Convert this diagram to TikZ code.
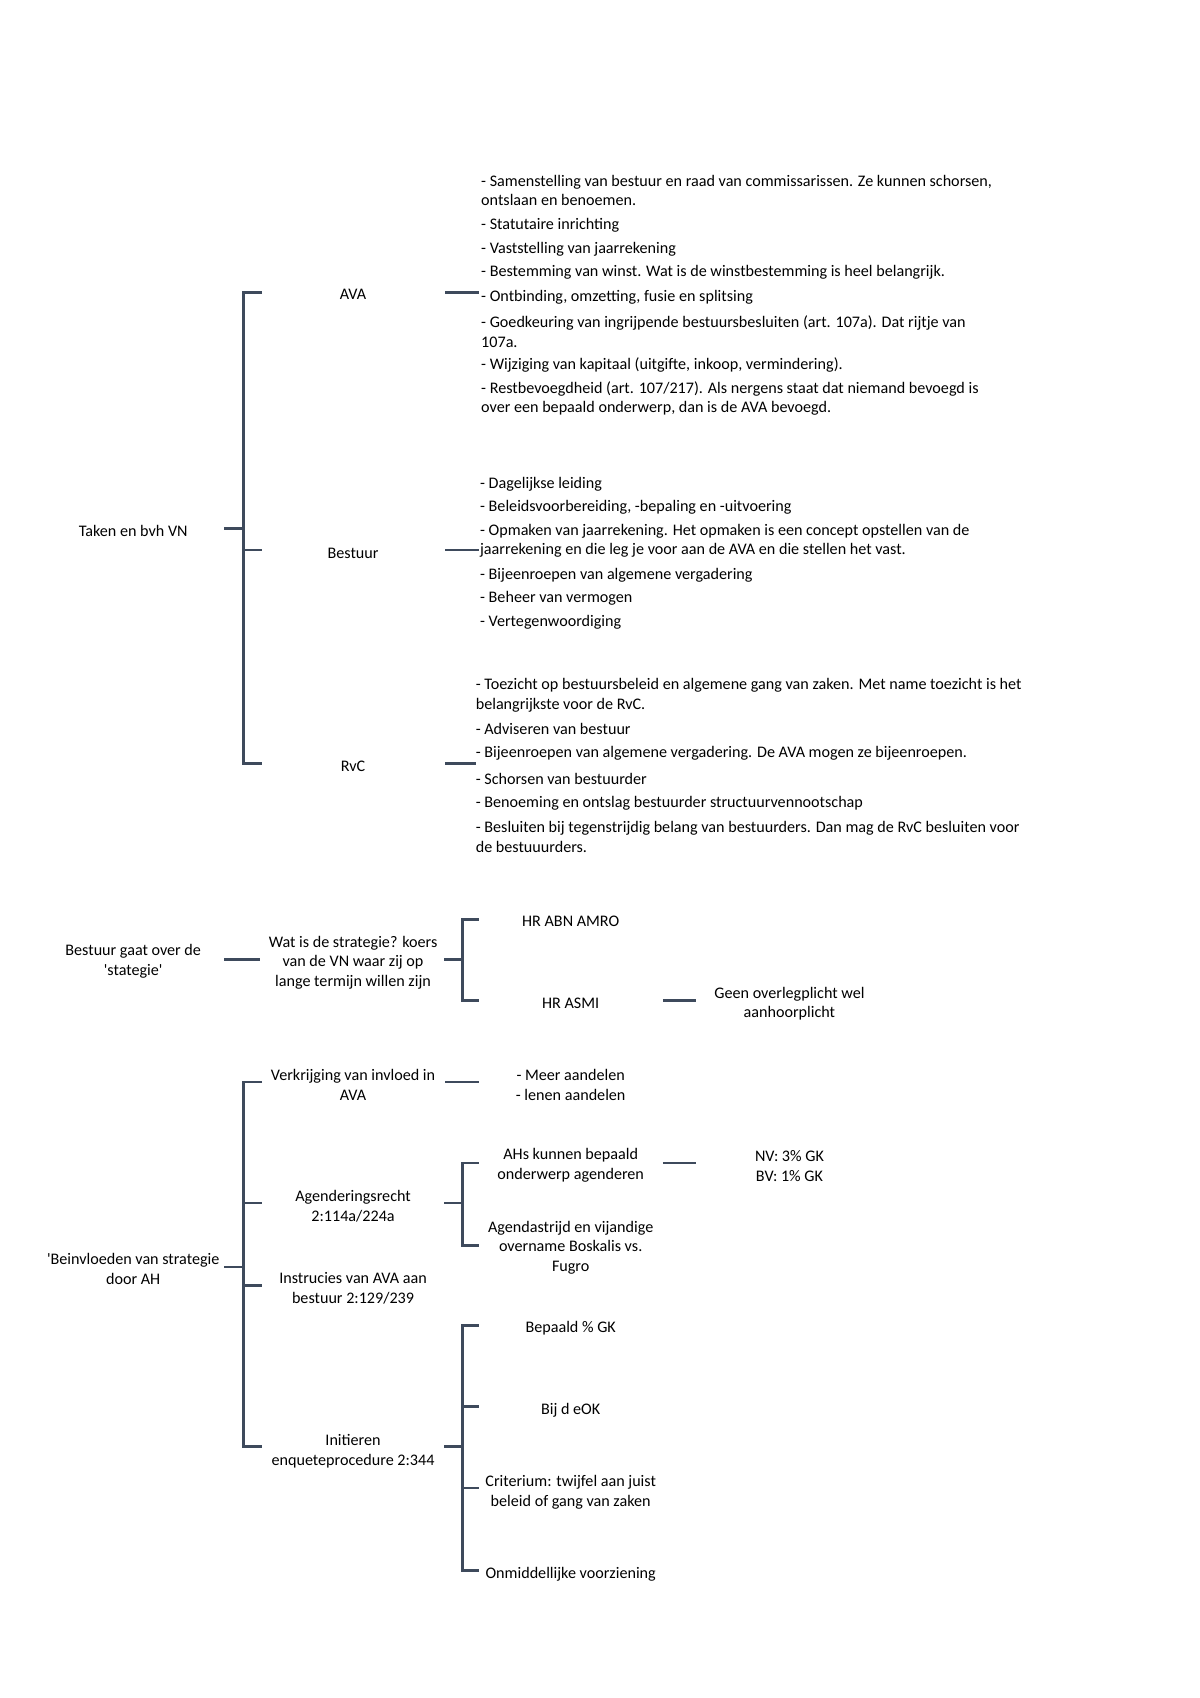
\documentclass[tikz,border=0pt]{standalone}
\usepackage{fontspec}
\setmainfont{Carlito}
\definecolor{linec}{HTML}{3E4A5C}
\begin{document}
\begin{tikzpicture}[x=0.537pt,y=-0.537pt,
  conn/.style={draw=linec,line width=1.3pt,line join=miter},
  lbl/.style={inner sep=0pt,align=center,yshift=-1pt,font=\fontsize{8}{9.7}\selectfont},
  item/.style={inner sep=0pt,anchor=west,align=left,yshift=-1pt,font=\fontsize{8}{9.7}\selectfont}]
\useasboundingbox (0,0) rectangle (1108,1568);

% ---------- top section ----------
\node[lbl] (taken) at (123,488) {Taken en bvh VN};
\node[lbl] (ava) at (326,270) {AVA};
\node[lbl] (bestuur) at (326,509) {Bestuur};
\node[lbl] (rvc) at (326,706) {RvC};

\node[item] (a1) at (444,174) {- Samenstelling van bestuur en raad van commissarissen. Ze kunnen schorsen,\\ontslaan en benoemen.};
\node[item] (a2) at (444,206) {- Statutaire inrichting};
\node[item] (a3) at (444,228) {- Vaststelling van jaarrekening};
\node[item] (a4) at (444,250) {- Bestemming van winst. Wat is de winstbestemming is heel belangrijk.};
\node[item] (a5) at (444,273) {- Ontbinding, omzetting, fusie en splitsing};
\node[item] (a6) at (444,304.5) {- Goedkeuring van ingrijpende bestuursbesluiten (art. 107a). Dat rijtje van\\107a.};
\node[item] (a7) at (444,335) {- Wijziging van kapitaal (uitgifte, inkoop, vermindering).};
\node[item] (a8) at (444,366) {- Restbevoegdheid (art. 107/217). Als nergens staat dat niemand bevoegd is\\over een bepaald onderwerp, dan is de AVA bevoegd.};

\node[item] (b1) at (443,445) {- Dagelijkse leiding};
\node[item] (b2) at (443,467) {- Beleidsvoorbereiding, -bepaling en -uitvoering};
\node[item] (b3) at (443,497.5) {- Opmaken van jaarrekening. Het opmaken is een concept opstellen van de\\jaarrekening en die leg je voor aan de AVA en die stellen het vast.};
\node[item] (b4) at (443,529) {- Bijeenroepen van algemene vergadering};
\node[item] (b5) at (443,551) {- Beheer van vermogen};
\node[item] (b6) at (443,573) {- Vertegenwoordiging};

\node[item] (r1) at (439,640) {- Toezicht op bestuursbeleid en algemene gang van zaken. Met name toezicht is het\\belangrijkste voor de RvC.};
\node[item] (r2) at (439,671) {- Adviseren van bestuur};
\node[item] (r3) at (439,694) {- Bijeenroepen van algemene vergadering. De AVA mogen ze bijeenroepen.};
\node[item] (r4) at (439,717) {- Schorsen van bestuurder};
\node[item] (r5) at (439,740) {- Benoeming en ontslag bestuurder structuurvennootschap};
\node[item] (r6) at (439,771) {- Besluiten bij tegenstrijdig belang van bestuurders. Dan mag de RvC besluiten voor\\de bestuuurders.};

\coordinate (t0) at (207,488);  \coordinate (tv) at (225,488);
\coordinate (tA) at (242,270);  \coordinate (tAv) at (225,270);
\coordinate (tB) at (242,508);  \coordinate (tBv) at (225,508);
\coordinate (tR) at (242,705);  \coordinate (tRv) at (225,705);
\coordinate (aL) at (411,270);  \coordinate (aR) at (442,270);
\coordinate (bL) at (411,508);  \coordinate (bR) at (442,508);
\coordinate (rL) at (411,705);  \coordinate (rR) at (440,705);
\draw[conn] (t0) -- (tv);
\draw[conn] (tA) -- (tAv) -- (tRv) -- (tR);
\draw[conn] (tBv) -- (tB);
\draw[conn] (aL) -- (aR);
\draw[conn] (bL) -- (bR);
\draw[conn] (rL) -- (rR);

% ---------- middle section ----------
\node[lbl] (m1) at (123,886) {Bestuur gaat over de\\\textquotesingle stategie\textquotesingle};
\node[lbl] (m2) at (326,887) {Wat is de strategie? koers\\van de VN waar zij op\\lange termijn willen zijn};
\node[lbl] (m3) at (527,849) {HR ABN AMRO};
\node[lbl] (m4) at (527,925) {HR ASMI};
\node[lbl] (m5) at (729,925) {Geen overlegplicht wel\\aanhoorplicht};

\coordinate (m1a) at (207,886); \coordinate (m1b) at (240,886);
\coordinate (m2a) at (410,886); \coordinate (m2b) at (427,886);
\coordinate (m3a) at (442,849); \coordinate (m3v) at (427,849);
\coordinate (m4a) at (442,924); \coordinate (m4v) at (427,924);
\coordinate (m5a) at (612,924); \coordinate (m5b) at (643,924);
\draw[conn] (m1a) -- (m1b);
\draw[conn] (m2a) -- (m2b);
\draw[conn] (m3a) -- (m3v) -- (m4v) -- (m4a);
\draw[conn] (m5a) -- (m5b);

% ---------- bottom section ----------
\node[lbl] (n1) at (123,1170) {\textquotesingle Beinvloeden van strategie\\door AH};
\node[lbl] (n2) at (326,1000) {Verkrijging van invloed in\\AVA};
\node[lbl] (n3) at (527,1000) {- Meer aandelen\\- lenen aandelen};
\node[lbl] (n4) at (326,1112) {Agenderingsrecht\\2:114a/224a};
\node[lbl] (n5) at (527,1074) {AHs kunnen bepaald\\onderwerp agenderen};
\node[lbl] (n6) at (729,1075) {NV: 3\% GK\\BV: 1\% GK};
\node[lbl] (n7) at (527,1150) {Agendastrijd en vijandige\\overname Boskalis vs.\\Fugro};
\node[lbl] (n8) at (326,1188) {Instrucies van AVA aan\\bestuur 2:129/239};
\node[lbl] (n9) at (326,1338) {Initieren\\enqueteprocedure 2:344};
\node[lbl] (n10) at (527,1225) {Bepaald \% GK};
\node[lbl] (n11) at (527,1300) {Bij d eOK};
\node[lbl] (n12) at (527,1376) {Criterium: twijfel aan juist\\beleid of gang van zaken};
\node[lbl] (n13) at (527,1452) {Onmiddellijke voorziening};

\coordinate (n1a) at (207,1170); \coordinate (n1b) at (225,1170);
\coordinate (q1) at (242,999);  \coordinate (q1v) at (225,999);
\coordinate (q2) at (242,1111); \coordinate (q2v) at (225,1111);
\coordinate (q3) at (242,1187); \coordinate (q3v) at (225,1187);
\coordinate (q4) at (242,1336); \coordinate (q4v) at (225,1336);
\draw[conn] (n1a) -- (n1b);
\draw[conn] (q1) -- (q1v) -- (q4v) -- (q4);
\draw[conn] (q2v) -- (q2);
\draw[conn] (q3v) -- (q3);

\coordinate (n2a) at (411,999); \coordinate (n2b) at (442,999);
\draw[conn] (n2a) -- (n2b);

\coordinate (n4a) at (410,1111); \coordinate (n4b) at (427,1111);
\coordinate (s1) at (442,1074); \coordinate (s1v) at (427,1074);
\coordinate (s2) at (442,1150); \coordinate (s2v) at (427,1150);
\coordinate (n5a) at (612,1074); \coordinate (n5b) at (643,1074);
\draw[conn] (n4a) -- (n4b);
\draw[conn] (s1) -- (s1v) -- (s2v) -- (s2);
\draw[conn] (n5a) -- (n5b);

\coordinate (n9a) at (410,1336); \coordinate (n9b) at (427,1336);
\coordinate (u1) at (442,1224); \coordinate (u1v) at (427,1224);
\coordinate (u2) at (442,1299); \coordinate (u2v) at (427,1299);
\coordinate (u3) at (442,1374); \coordinate (u3v) at (427,1374);
\coordinate (u4) at (442,1450); \coordinate (u4v) at (427,1450);
\draw[conn] (n9a) -- (n9b);
\draw[conn] (u1) -- (u1v) -- (u4v) -- (u4);
\draw[conn] (u2v) -- (u2);
\draw[conn] (u3v) -- (u3);
\end{tikzpicture}
\end{document}
